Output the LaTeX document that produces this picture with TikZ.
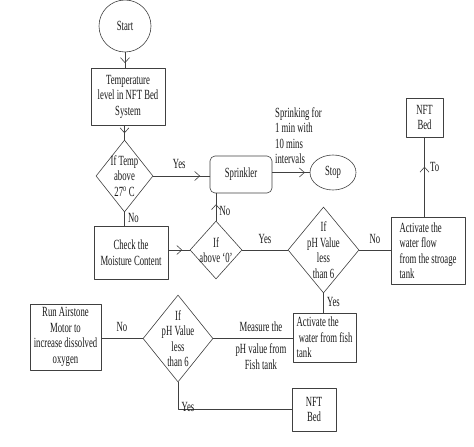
\documentclass[tikz,border=0pt]{standalone}
\usepackage{fontspec}
\setmainfont{Liberation Serif}[FakeStretch=0.62]
\usetikzlibrary{shapes.geometric,arrows.meta,decorations.markings}

\newcommand\flowfont{\fontsize{14}{15.5}\selectfont}

\tikzset{
  flow/.style={draw=black!75, line width=0.6pt},
  box/.style={flow, rectangle, inner sep=1pt, align=center},
  term/.style={flow, ellipse, inner sep=0pt},
  dia/.style={flow, diamond, inner sep=0pt},
  arrowat/.style={decoration={markings,
      mark=at position #1 with {\arrow{Straight Barb[length=5pt,width=9pt]}}},
    postaction={decorate}},
}

\begin{document}
\begin{tikzpicture}[x=1pt, y=-1pt, line cap=round, line join=round,
  every node/.style={font=\flowfont, text=black!90}]

  %% ════ 框与判断 ════
  \node[term, minimum width=52pt, minimum height=52pt] (start) at (125,26) {Start};
  \node[box, minimum width=74pt, minimum height=57pt] (temp) at (128,96.5)
    {Temperature\\level in NFT Bed\\System};
  \node[dia, minimum width=57pt, minimum height=72pt,
    label={[align=center]center:If Temp\\above\\27\textsuperscript{o} C}] (tempq) at (124.5,176) {};
  \node[box, rounded corners=5pt, minimum width=62pt, minimum height=37pt] (sprink) at (241,174.5) {Sprinkler};
  \node[term, minimum width=46pt, minimum height=35pt] (stop) at (333,172.5) {Stop};
  \node[align=left, anchor=north west, inner sep=0pt] (sprtxt) at (275,107)
    {Sprinking for\\1 min with\\10 mins\\intervals};
  \node[box, minimum width=37pt, minimum height=39pt] (bedtop) at (424.5,117.5) {NFT\\Bed};

  \node[box, minimum width=74pt, minimum height=53pt] (check) at (131,252.5)
    {Check the\\Moisture Content};
  \node[dia, minimum width=52pt, minimum height=58pt,
    label={[align=center]center:If\\above `0'}] (zeroq) at (216,250) {};
  \node[dia, minimum width=71pt, minimum height=86pt,
    label={[align=center]center:If\\pH Value\\less\\than 6}] (phq) at (323.5,250) {};
  \node[box, align=left, minimum width=74pt, minimum height=67pt] (store) at (428,250.5)
    {Activate the\\water flow\\from the stroage\\tank};

  \node[box, align=left, minimum width=63pt, minimum height=49pt] (fish) at (324.5,337.5)
    {Activate the\\\ water from fish\\tank};
  \node[dia, minimum width=70pt, minimum height=87pt,
    label={[align=center]center:If\\pH Value\\less\\than 6}] (phlow) at (178,338.5) {};
  \node[box, minimum width=71pt, minimum height=66pt] (airst) at (65.5,337)
    {Run Airstone\\Motor to\\increase dissolved\\oxygen};
  \node[box, minimum width=44pt, minimum height=43pt] (bedlow) at (314,409.5) {NFT\\Bed};

  %% ════ 连线 ════
  \draw[flow, arrowat=0.7] (start.south) -- (start.south |- temp.north);
  \draw[flow, arrowat=0.55] (tempq.north |- temp.south) -- (tempq.north);
  \draw[flow, arrowat=0.83] (tempq.east) -- node[above=4pt, pos=0.46] (yes1) {Yes} (tempq.east -| sprink.west);
  \draw[flow, arrowat=0.87] (sprink.east |- stop.west) -- (stop.west);
  \draw[flow] (tempq.south) -- node[right, pos=0.45] (no1) {No} (tempq.south |- check.north);
  \draw[flow, arrowat=0.65] (check.east |- zeroq.west) -- (zeroq.west);
  \draw[flow, arrowat=0.6] (zeroq.north) -- node[right, pos=0.35] (no2) {No} (zeroq.north |- sprink.south);
  \draw[flow] (zeroq.east) -- node[above=3pt] (yes2) {Yes} (phq.west);
  \draw[flow] (phq.east) -- node[above=3pt] (no3) {No} (phq.east -| store.west);
  \draw[flow, arrowat=0.63] (bedtop.south |- store.north) -- node[right=2pt, pos=0.63] (to) {To} (bedtop.south);
  \draw[flow] (phq.south) -- node[right, pos=0.45] (yes3) {Yes} (phq.south |- fish.north);
  \draw[flow] (fish.west |- phlow.east) -- node[above=3pt, pos=0.4] (meas) {Measure the}
    node[below=2pt, pos=0.4, align=center] (meas2) {pH value from\\Fish tank} (phlow.east);
  \draw[flow] (phlow.west) -- node[above=3pt] (no4) {No} (phlow.west -| airst.east);
  \draw[flow] (phlow.south) |- node[right, pos=0.45] (yes4) {Yes} (bedlow.west);

  % 钉死画布
  \pgfresetboundingbox
  \path[use as bounding box] (0,0) rectangle (474,447);
\end{tikzpicture}
\end{document}
